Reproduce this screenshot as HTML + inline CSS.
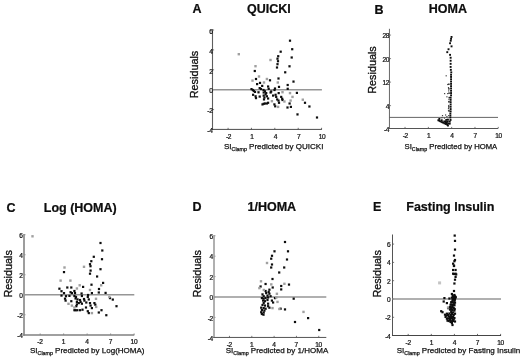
<!DOCTYPE html>
<html><head><meta charset="utf-8"><title>Residuals</title>
<style>
html,body{margin:0;padding:0;background:#fff;}
body{width:520px;height:360px;overflow:hidden;}
svg{display:block;font-family:'Liberation Sans', sans-serif;}
.t{font-weight:bold;font-size:12.5px;fill:#0a0a0a;stroke:#0a0a0a;stroke-width:.2;}
.k{font-size:6.6px;fill:#111;stroke:#111;stroke-width:.22;letter-spacing:-.35px;}
.xl{font-size:8px;fill:#111;stroke:#111;stroke-width:.25;}
.r{font-size:10.8px;fill:#111;stroke:#111;stroke-width:.3;}
.ax{stroke:#777;stroke-width:1;fill:none;}
</style></head><body>
<svg width="520" height="360" viewBox="0 0 520 360">
<defs><filter id="soft" x="0" y="0" width="520" height="360" filterUnits="userSpaceOnUse"><feGaussianBlur stdDeviation="0.38"/></filter></defs>
<rect width="520" height="360" fill="#fff"/>
<g filter="url(#soft)">
<g id="panelA">
<text class="t" x="192.50" y="12.50">A</text>
<text class="t" x="247.00" y="12.50">QUICKI</text>
<line x1="212.50" y1="29.40" x2="212.50" y2="129.90" stroke="#5e5e5e" stroke-width="1.10"/>
<line x1="211.95" y1="129.40" x2="321.90" y2="129.40" stroke="#4a4a4a" stroke-width="1.00"/>
<line x1="228.08" y1="129.40" x2="228.08" y2="127.80" stroke="#4a4a4a" stroke-width="0.8"/><line x1="251.45" y1="129.40" x2="251.45" y2="127.80" stroke="#4a4a4a" stroke-width="0.8"/><line x1="274.82" y1="129.40" x2="274.82" y2="127.80" stroke="#4a4a4a" stroke-width="0.8"/><line x1="298.19" y1="129.40" x2="298.19" y2="127.80" stroke="#4a4a4a" stroke-width="0.8"/><line x1="321.56" y1="129.40" x2="321.56" y2="127.80" stroke="#4a4a4a" stroke-width="0.8"/><line x1="212.50" y1="30.00" x2="214.10" y2="30.00" stroke="#5e5e5e" stroke-width="0.8"/><line x1="212.50" y1="49.90" x2="214.10" y2="49.90" stroke="#5e5e5e" stroke-width="0.8"/><line x1="212.50" y1="69.80" x2="214.10" y2="69.80" stroke="#5e5e5e" stroke-width="0.8"/><line x1="212.50" y1="89.70" x2="214.10" y2="89.70" stroke="#5e5e5e" stroke-width="0.8"/><line x1="212.50" y1="109.60" x2="214.10" y2="109.60" stroke="#5e5e5e" stroke-width="0.8"/>
<line x1="212.50" y1="89.70" x2="321.90" y2="89.70" stroke="#969696" stroke-width="1.50"/>
<text class="k" text-anchor="end" x="212.50" y="33.75">6</text>
<text class="k" text-anchor="end" x="212.50" y="53.65">4</text>
<text class="k" text-anchor="end" x="212.50" y="73.55">2</text>
<text class="k" text-anchor="end" x="212.50" y="93.45">0</text>
<text class="k" text-anchor="end" x="212.50" y="113.35">-2</text>
<text class="k" text-anchor="end" x="212.50" y="133.25">-4</text>
<text class="k" text-anchor="middle" x="228.58" y="138.80">-2</text>
<text class="k" text-anchor="middle" x="251.95" y="138.80">1</text>
<text class="k" text-anchor="middle" x="275.32" y="138.80">4</text>
<text class="k" text-anchor="middle" x="298.69" y="138.80">7</text>
<text class="k" text-anchor="middle" x="322.06" y="138.80">10</text>
<text class="xl" style="font-size:8.00px" x="224.00" y="149.00">SI<tspan font-size="5.3" dy="2.2">Clamp</tspan><tspan dy="-2.2"> Predicted by QUICKI</tspan></text>
<text class="r" text-anchor="middle" transform="translate(198.30 74.50) rotate(-90)">Residuals</text>
<rect x="253.7" y="69.9" width="2.2" height="2.2" fill="#0c0c0c"/><rect x="284.1" y="71.2" width="2.2" height="2.2" fill="#0c0c0c"/><rect x="254.9" y="77.9" width="2.2" height="2.2" fill="#0c0c0c"/><rect x="277.4" y="77.4" width="2.2" height="2.2" fill="#0c0c0c"/><rect x="268.9" y="79.2" width="2.2" height="2.2" fill="#0c0c0c"/><rect x="292.4" y="80.5" width="2.2" height="2.2" fill="#0c0c0c"/><rect x="256.0" y="83.0" width="2.2" height="2.2" fill="#0c0c0c"/><rect x="258.9" y="81.8" width="2.2" height="2.2" fill="#0c0c0c"/><rect x="261.1" y="84.8" width="2.2" height="2.2" fill="#0c0c0c"/><rect x="277.9" y="85.8" width="2.2" height="2.2" fill="#0c0c0c"/><rect x="286.6" y="83.9" width="2.2" height="2.2" fill="#0c0c0c"/><rect x="286.6" y="87.7" width="2.2" height="2.2" fill="#0c0c0c"/><rect x="267.0" y="85.4" width="2.2" height="2.2" fill="#0c0c0c"/><rect x="267.6" y="87.7" width="2.2" height="2.2" fill="#0c0c0c"/><rect x="273.9" y="87.4" width="2.2" height="2.2" fill="#0c0c0c"/><rect x="273.4" y="88.9" width="2.2" height="2.2" fill="#0c0c0c"/><rect x="250.4" y="88.0" width="2.2" height="2.2" fill="#0c0c0c"/><rect x="251.7" y="88.9" width="2.2" height="2.2" fill="#0c0c0c"/><rect x="252.7" y="89.9" width="2.2" height="2.2" fill="#0c0c0c"/><rect x="253.9" y="90.8" width="2.2" height="2.2" fill="#0c0c0c"/><rect x="258.6" y="87.0" width="2.2" height="2.2" fill="#0c0c0c"/><rect x="259.9" y="87.9" width="2.2" height="2.2" fill="#0c0c0c"/><rect x="262.4" y="88.9" width="2.2" height="2.2" fill="#0c0c0c"/><rect x="263.9" y="90.2" width="2.2" height="2.2" fill="#0c0c0c"/><rect x="257.4" y="91.2" width="2.2" height="2.2" fill="#0c0c0c"/><rect x="262.6" y="91.4" width="2.2" height="2.2" fill="#0c0c0c"/><rect x="265.1" y="92.0" width="2.2" height="2.2" fill="#0c0c0c"/><rect x="269.5" y="91.4" width="2.2" height="2.2" fill="#0c0c0c"/><rect x="270.1" y="90.4" width="2.2" height="2.2" fill="#0c0c0c"/><rect x="277.6" y="92.0" width="2.2" height="2.2" fill="#0c0c0c"/><rect x="252.0" y="93.7" width="2.2" height="2.2" fill="#0c0c0c"/><rect x="254.5" y="95.2" width="2.2" height="2.2" fill="#0c0c0c"/><rect x="254.9" y="97.0" width="2.2" height="2.2" fill="#0c0c0c"/><rect x="258.6" y="95.5" width="2.2" height="2.2" fill="#0c0c0c"/><rect x="262.6" y="94.5" width="2.2" height="2.2" fill="#0c0c0c"/><rect x="264.5" y="93.3" width="2.2" height="2.2" fill="#0c0c0c"/><rect x="265.8" y="95.2" width="2.2" height="2.2" fill="#0c0c0c"/><rect x="263.3" y="96.4" width="2.2" height="2.2" fill="#0c0c0c"/><rect x="262.9" y="98.3" width="2.2" height="2.2" fill="#0c0c0c"/><rect x="267.0" y="97.4" width="2.2" height="2.2" fill="#0c0c0c"/><rect x="272.0" y="94.5" width="2.2" height="2.2" fill="#0c0c0c"/><rect x="274.5" y="93.7" width="2.2" height="2.2" fill="#0c0c0c"/><rect x="275.1" y="95.8" width="2.2" height="2.2" fill="#0c0c0c"/><rect x="276.1" y="98.3" width="2.2" height="2.2" fill="#0c0c0c"/><rect x="277.4" y="99.5" width="2.2" height="2.2" fill="#0c0c0c"/><rect x="280.1" y="95.8" width="2.2" height="2.2" fill="#0c0c0c"/><rect x="281.1" y="97.7" width="2.2" height="2.2" fill="#0c0c0c"/><rect x="281.4" y="98.9" width="2.2" height="2.2" fill="#0c0c0c"/><rect x="295.8" y="91.8" width="2.2" height="2.2" fill="#0c0c0c"/><rect x="261.4" y="103.3" width="2.2" height="2.2" fill="#0c0c0c"/><rect x="262.6" y="102.7" width="2.2" height="2.2" fill="#0c0c0c"/><rect x="263.9" y="102.4" width="2.2" height="2.2" fill="#0c0c0c"/><rect x="265.8" y="102.4" width="2.2" height="2.2" fill="#0c0c0c"/><rect x="267.0" y="101.7" width="2.2" height="2.2" fill="#0c0c0c"/><rect x="273.3" y="103.3" width="2.2" height="2.2" fill="#0c0c0c"/><rect x="274.1" y="105.2" width="2.2" height="2.2" fill="#0c0c0c"/><rect x="277.9" y="101.7" width="2.2" height="2.2" fill="#0c0c0c"/><rect x="286.4" y="106.4" width="2.2" height="2.2" fill="#0c0c0c"/><rect x="289.8" y="105.8" width="2.2" height="2.2" fill="#0c0c0c"/><rect x="288.5" y="102.4" width="2.2" height="2.2" fill="#0c0c0c"/><rect x="303.9" y="101.7" width="2.2" height="2.2" fill="#0c0c0c"/><rect x="308.3" y="105.4" width="2.2" height="2.2" fill="#0c0c0c"/><rect x="296.4" y="113.3" width="2.2" height="2.2" fill="#0c0c0c"/><rect x="257.8" y="75.3" width="2.4" height="2.4" fill="#a0a0a0"/><rect x="251.3" y="79.4" width="2.4" height="2.4" fill="#a0a0a0"/><rect x="265.7" y="77.8" width="2.4" height="2.4" fill="#a0a0a0"/><rect x="262.8" y="81.3" width="2.4" height="2.4" fill="#a0a0a0"/><rect x="276.6" y="81.3" width="2.4" height="2.4" fill="#a0a0a0"/><rect x="281.3" y="91.0" width="2.4" height="2.4" fill="#a0a0a0"/><rect x="288.8" y="91.9" width="2.4" height="2.4" fill="#a0a0a0"/><rect x="291.3" y="95.7" width="2.4" height="2.4" fill="#a0a0a0"/><rect x="289.4" y="99.4" width="2.4" height="2.4" fill="#a0a0a0"/><rect x="301.6" y="98.5" width="2.4" height="2.4" fill="#a0a0a0"/><rect x="270.7" y="100.0" width="2.4" height="2.4" fill="#a0a0a0"/><rect x="283.2" y="100.3" width="2.4" height="2.4" fill="#a0a0a0"/><rect x="276.9" y="105.7" width="2.4" height="2.4" fill="#a0a0a0"/><rect x="288.9" y="39.6" width="2.2" height="2.2" fill="#0c0c0c"/><rect x="291.1" y="48.1" width="2.2" height="2.2" fill="#0c0c0c"/><rect x="279.6" y="50.6" width="2.2" height="2.2" fill="#0c0c0c"/><rect x="277.1" y="55.1" width="2.2" height="2.2" fill="#0c0c0c"/><rect x="290.6" y="56.4" width="2.2" height="2.2" fill="#0c0c0c"/><rect x="276.4" y="57.6" width="2.2" height="2.2" fill="#0c0c0c"/><rect x="276.9" y="60.1" width="2.2" height="2.2" fill="#0c0c0c"/><rect x="276.4" y="63.1" width="2.2" height="2.2" fill="#0c0c0c"/><rect x="275.9" y="66.4" width="2.2" height="2.2" fill="#0c0c0c"/><rect x="288.4" y="65.2" width="2.2" height="2.2" fill="#0c0c0c"/><rect x="237.6" y="53.0" width="2.4" height="2.4" fill="#a0a0a0"/><rect x="269.3" y="58.8" width="2.4" height="2.4" fill="#a0a0a0"/><rect x="254.3" y="65.0" width="2.4" height="2.4" fill="#a0a0a0"/><rect x="315.9" y="116.4" width="2.2" height="2.2" fill="#0c0c0c"/>
</g>
<g id="panelB">
<text class="t" x="374.50" y="13.50">B</text>
<text class="t" x="428.75" y="12.50">HOMA</text>
<line x1="389.45" y1="28.80" x2="389.45" y2="129.00" stroke="#666" stroke-width="1.00"/>
<line x1="388.95" y1="128.50" x2="498.00" y2="128.50" stroke="#555" stroke-width="1.00"/>
<line x1="405.04" y1="128.50" x2="405.04" y2="126.90" stroke="#555" stroke-width="0.8"/><line x1="428.35" y1="128.50" x2="428.35" y2="126.90" stroke="#555" stroke-width="0.8"/><line x1="451.66" y1="128.50" x2="451.66" y2="126.90" stroke="#555" stroke-width="0.8"/><line x1="474.97" y1="128.50" x2="474.97" y2="126.90" stroke="#555" stroke-width="0.8"/><line x1="498.28" y1="128.50" x2="498.28" y2="126.90" stroke="#555" stroke-width="0.8"/><line x1="389.45" y1="35.08" x2="391.05" y2="35.08" stroke="#666" stroke-width="0.8"/><line x1="389.45" y1="58.60" x2="391.05" y2="58.60" stroke="#666" stroke-width="0.8"/><line x1="389.45" y1="82.12" x2="391.05" y2="82.12" stroke="#666" stroke-width="0.8"/><line x1="389.45" y1="105.64" x2="391.05" y2="105.64" stroke="#666" stroke-width="0.8"/>
<line x1="389.45" y1="117.40" x2="498.00" y2="117.40" stroke="#555" stroke-width="0.90"/>
<text class="k" text-anchor="end" x="389.05" y="38.23">28</text>
<text class="k" text-anchor="end" x="389.05" y="61.75">20</text>
<text class="k" text-anchor="end" x="389.05" y="85.27">12</text>
<text class="k" text-anchor="end" x="389.05" y="108.79">4</text>
<text class="k" text-anchor="end" x="389.05" y="132.31">-4</text>
<text class="k" text-anchor="middle" x="405.34" y="137.80">-2</text>
<text class="k" text-anchor="middle" x="428.65" y="137.80">1</text>
<text class="k" text-anchor="middle" x="451.96" y="137.80">4</text>
<text class="k" text-anchor="middle" x="475.27" y="137.80">7</text>
<text class="k" text-anchor="middle" x="498.58" y="137.80">10</text>
<text class="xl" style="font-size:7.70px" x="404.60" y="149.00">SI<tspan font-size="5.3" dy="2.2">Clamp</tspan><tspan dy="-2.2"> Predicted by HOMA</tspan></text>
<text class="r" text-anchor="middle" transform="translate(375.50 70.00) rotate(-90)">Residuals</text>
<rect x="450.6" y="36.0" width="1.9" height="1.9" fill="#111"/><rect x="450.1" y="37.9" width="1.9" height="1.9" fill="#111"/><rect x="449.8" y="39.8" width="1.9" height="1.9" fill="#111"/><rect x="449.1" y="42.3" width="1.9" height="1.9" fill="#111"/><rect x="450.6" y="45.4" width="1.9" height="1.9" fill="#111"/><rect x="447.6" y="48.3" width="1.9" height="1.9" fill="#111"/><rect x="446.3" y="51.2" width="1.9" height="1.9" fill="#111"/><rect x="449.1" y="53.9" width="1.9" height="1.9" fill="#111"/><rect x="449.7" y="56.8" width="1.9" height="1.9" fill="#111"/><rect x="449.7" y="59.8" width="1.9" height="1.9" fill="#111"/><rect x="449.7" y="62.9" width="1.9" height="1.9" fill="#111"/><rect x="449.7" y="66.0" width="1.9" height="1.9" fill="#111"/><rect x="449.9" y="68.9" width="1.9" height="1.9" fill="#111"/><rect x="450.3" y="71.4" width="1.9" height="1.9" fill="#111"/><rect x="450.1" y="73.8" width="1.9" height="1.9" fill="#111"/><rect x="450.1" y="76.0" width="1.9" height="1.9" fill="#111"/><rect x="450.1" y="78.3" width="1.9" height="1.9" fill="#111"/><rect x="450.1" y="80.6" width="1.9" height="1.9" fill="#111"/><rect x="450.1" y="82.9" width="1.9" height="1.9" fill="#111"/><rect x="450.1" y="85.2" width="1.9" height="1.9" fill="#111"/><rect x="450.1" y="87.5" width="1.9" height="1.9" fill="#111"/><rect x="450.1" y="89.8" width="1.9" height="1.9" fill="#111"/><rect x="450.1" y="92.1" width="1.9" height="1.9" fill="#111"/><rect x="450.1" y="94.4" width="1.9" height="1.9" fill="#111"/><rect x="449.7" y="96.7" width="1.9" height="1.9" fill="#111"/><rect x="449.7" y="98.9" width="1.9" height="1.9" fill="#111"/><rect x="449.7" y="101.2" width="1.9" height="1.9" fill="#111"/><rect x="449.7" y="103.5" width="1.9" height="1.9" fill="#111"/><rect x="449.7" y="105.8" width="1.9" height="1.9" fill="#111"/><rect x="449.7" y="108.1" width="1.9" height="1.9" fill="#111"/><rect x="449.7" y="110.4" width="1.9" height="1.9" fill="#111"/><rect x="448.1" y="83.5" width="1.5" height="1.5" fill="#222"/><rect x="448.1" y="88.1" width="1.5" height="1.5" fill="#222"/><rect x="448.3" y="92.4" width="1.5" height="1.5" fill="#222"/><rect x="448.5" y="96.9" width="1.5" height="1.5" fill="#222"/><rect x="448.2" y="101.1" width="1.5" height="1.5" fill="#222"/><rect x="448.0" y="106.2" width="1.5" height="1.5" fill="#222"/><rect x="448.3" y="110.2" width="1.5" height="1.5" fill="#222"/><rect x="449.4" y="112.6" width="1.9" height="1.9" fill="#111"/><rect x="449.4" y="114.6" width="1.9" height="1.9" fill="#111"/><rect x="449.4" y="116.6" width="1.9" height="1.9" fill="#111"/><rect x="445.6" y="75.2" width="1.2" height="1.2" fill="#444"/><rect x="447.1" y="83.9" width="1.2" height="1.2" fill="#444"/><rect x="447.9" y="87.0" width="1.2" height="1.2" fill="#444"/><rect x="448.1" y="90.3" width="1.2" height="1.2" fill="#444"/><rect x="444.0" y="93.0" width="1.2" height="1.2" fill="#444"/><rect x="447.1" y="93.0" width="1.2" height="1.2" fill="#444"/><rect x="446.3" y="96.2" width="1.2" height="1.2" fill="#444"/><rect x="448.4" y="98.9" width="1.2" height="1.2" fill="#444"/><rect x="447.9" y="108.0" width="1.2" height="1.2" fill="#444"/><rect x="448.1" y="100.9" width="1.2" height="1.2" fill="#444"/><rect x="448.1" y="104.9" width="1.2" height="1.2" fill="#444"/><rect x="447.9" y="109.9" width="1.2" height="1.2" fill="#444"/><rect x="441.9" y="115.0" width="1.2" height="1.2" fill="#444"/><rect x="445.0" y="114.4" width="1.2" height="1.2" fill="#444"/><rect x="441.3" y="117.2" width="1.2" height="1.2" fill="#444"/><rect x="446.3" y="116.0" width="1.2" height="1.2" fill="#444"/><rect x="448.1" y="115.0" width="1.2" height="1.2" fill="#444"/><rect x="443.8" y="117.5" width="1.2" height="1.2" fill="#444"/><rect x="437.4" y="119.3" width="1.9" height="1.9" fill="#111"/><rect x="438.4" y="118.0" width="1.9" height="1.9" fill="#111"/><rect x="438.6" y="120.0" width="1.9" height="1.9" fill="#111"/><rect x="439.8" y="120.6" width="1.9" height="1.9" fill="#111"/><rect x="440.8" y="119.3" width="1.9" height="1.9" fill="#111"/><rect x="441.1" y="121.2" width="1.9" height="1.9" fill="#111"/><rect x="442.3" y="121.8" width="1.9" height="1.9" fill="#111"/><rect x="443.3" y="120.5" width="1.9" height="1.9" fill="#111"/><rect x="443.6" y="122.4" width="1.9" height="1.9" fill="#111"/><rect x="444.6" y="121.1" width="1.9" height="1.9" fill="#111"/><rect x="444.8" y="123.0" width="1.9" height="1.9" fill="#111"/><rect x="445.8" y="121.7" width="1.9" height="1.9" fill="#111"/><rect x="446.1" y="123.6" width="1.9" height="1.9" fill="#111"/><rect x="445.3" y="118.9" width="1.9" height="1.9" fill="#111"/><rect x="447.0" y="118.7" width="1.9" height="1.9" fill="#111"/><rect x="449.6" y="119.0" width="1.9" height="1.9" fill="#111"/><rect x="444.9" y="120.4" width="1.9" height="1.9" fill="#111"/><rect x="446.8" y="120.6" width="1.9" height="1.9" fill="#111"/><rect x="448.8" y="120.6" width="1.9" height="1.9" fill="#111"/><rect x="445.4" y="122.4" width="1.9" height="1.9" fill="#111"/><rect x="447.4" y="122.7" width="1.9" height="1.9" fill="#111"/><rect x="448.8" y="122.7" width="1.9" height="1.9" fill="#111"/><rect x="447.0" y="124.6" width="1.9" height="1.9" fill="#111"/>
</g>
<g id="panelC">
<text class="t" x="6.50" y="212.00">C</text>
<text class="t" x="43.75" y="211.75">Log (HOMA)</text>
<line x1="24.00" y1="234.00" x2="24.00" y2="335.75" stroke="#8c8c8c" stroke-width="1.70"/>
<line x1="23.15" y1="335.00" x2="134.30" y2="335.00" stroke="#808080" stroke-width="1.50"/>
<line x1="40.16" y1="335.00" x2="40.16" y2="333.40" stroke="#808080" stroke-width="0.8"/><line x1="63.65" y1="335.00" x2="63.65" y2="333.40" stroke="#808080" stroke-width="0.8"/><line x1="87.14" y1="335.00" x2="87.14" y2="333.40" stroke="#808080" stroke-width="0.8"/><line x1="110.63" y1="335.00" x2="110.63" y2="333.40" stroke="#808080" stroke-width="0.8"/><line x1="134.12" y1="335.00" x2="134.12" y2="333.40" stroke="#808080" stroke-width="0.8"/><line x1="24.00" y1="234.75" x2="25.60" y2="234.75" stroke="#8c8c8c" stroke-width="0.8"/><line x1="24.00" y1="254.75" x2="25.60" y2="254.75" stroke="#8c8c8c" stroke-width="0.8"/><line x1="24.00" y1="274.75" x2="25.60" y2="274.75" stroke="#8c8c8c" stroke-width="0.8"/><line x1="24.00" y1="294.75" x2="25.60" y2="294.75" stroke="#8c8c8c" stroke-width="0.8"/><line x1="24.00" y1="314.75" x2="25.60" y2="314.75" stroke="#8c8c8c" stroke-width="0.8"/>
<line x1="24.00" y1="294.75" x2="134.30" y2="294.75" stroke="#969696" stroke-width="1.50"/>
<text class="k" text-anchor="end" x="22.50" y="237.90">6</text>
<text class="k" text-anchor="end" x="22.50" y="257.90">4</text>
<text class="k" text-anchor="end" x="22.50" y="277.90">2</text>
<text class="k" text-anchor="end" x="22.50" y="297.90">0</text>
<text class="k" text-anchor="end" x="22.50" y="317.90">-2</text>
<text class="k" text-anchor="end" x="22.50" y="337.90">-4</text>
<text class="k" text-anchor="middle" x="39.96" y="344.10">-2</text>
<text class="k" text-anchor="middle" x="63.45" y="344.10">1</text>
<text class="k" text-anchor="middle" x="86.94" y="344.10">4</text>
<text class="k" text-anchor="middle" x="110.43" y="344.10">7</text>
<text class="k" text-anchor="middle" x="133.92" y="344.10">10</text>
<text class="xl" style="font-size:8.00px" x="30.00" y="353.00">SI<tspan font-size="5.3" dy="2.2">Clamp</tspan><tspan dy="-2.2"> Predicted by Log(HOMA)</tspan></text>
<text class="r" text-anchor="middle" transform="translate(12.00 273.90) rotate(-90)">Residuals</text>
<rect x="62.9" y="271.0" width="2.2" height="2.2" fill="#0c0c0c"/><rect x="89.5" y="269.5" width="2.2" height="2.2" fill="#0c0c0c"/><rect x="88.9" y="272.6" width="2.2" height="2.2" fill="#0c0c0c"/><rect x="96.0" y="275.4" width="2.2" height="2.2" fill="#0c0c0c"/><rect x="102.0" y="281.8" width="2.2" height="2.2" fill="#0c0c0c"/><rect x="90.4" y="283.6" width="2.2" height="2.2" fill="#0c0c0c"/><rect x="82.0" y="285.8" width="2.2" height="2.2" fill="#0c0c0c"/><rect x="66.2" y="286.4" width="2.2" height="2.2" fill="#0c0c0c"/><rect x="70.2" y="286.4" width="2.2" height="2.2" fill="#0c0c0c"/><rect x="58.3" y="287.6" width="2.2" height="2.2" fill="#0c0c0c"/><rect x="97.9" y="287.9" width="2.2" height="2.2" fill="#0c0c0c"/><rect x="60.4" y="290.1" width="2.2" height="2.2" fill="#0c0c0c"/><rect x="73.3" y="289.9" width="2.2" height="2.2" fill="#0c0c0c"/><rect x="69.5" y="291.1" width="2.2" height="2.2" fill="#0c0c0c"/><rect x="70.8" y="292.0" width="2.2" height="2.2" fill="#0c0c0c"/><rect x="62.9" y="292.0" width="2.2" height="2.2" fill="#0c0c0c"/><rect x="73.9" y="292.0" width="2.2" height="2.2" fill="#0c0c0c"/><rect x="80.5" y="292.4" width="2.2" height="2.2" fill="#0c0c0c"/><rect x="90.8" y="292.0" width="2.2" height="2.2" fill="#0c0c0c"/><rect x="97.7" y="291.4" width="2.2" height="2.2" fill="#0c0c0c"/><rect x="104.5" y="291.8" width="2.2" height="2.2" fill="#0c0c0c"/><rect x="87.0" y="293.9" width="2.2" height="2.2" fill="#0c0c0c"/><rect x="86.7" y="295.8" width="2.2" height="2.2" fill="#0c0c0c"/><rect x="60.4" y="294.5" width="2.2" height="2.2" fill="#0c0c0c"/><rect x="64.9" y="295.1" width="2.2" height="2.2" fill="#0c0c0c"/><rect x="68.3" y="294.8" width="2.2" height="2.2" fill="#0c0c0c"/><rect x="73.3" y="294.9" width="2.2" height="2.2" fill="#0c0c0c"/><rect x="74.9" y="295.8" width="2.2" height="2.2" fill="#0c0c0c"/><rect x="80.8" y="294.9" width="2.2" height="2.2" fill="#0c0c0c"/><rect x="63.9" y="297.6" width="2.2" height="2.2" fill="#0c0c0c"/><rect x="64.5" y="299.5" width="2.2" height="2.2" fill="#0c0c0c"/><rect x="70.2" y="300.1" width="2.2" height="2.2" fill="#0c0c0c"/><rect x="74.5" y="297.4" width="2.2" height="2.2" fill="#0c0c0c"/><rect x="76.4" y="298.3" width="2.2" height="2.2" fill="#0c0c0c"/><rect x="78.9" y="298.9" width="2.2" height="2.2" fill="#0c0c0c"/><rect x="82.9" y="297.9" width="2.2" height="2.2" fill="#0c0c0c"/><rect x="83.3" y="299.5" width="2.2" height="2.2" fill="#0c0c0c"/><rect x="87.7" y="298.3" width="2.2" height="2.2" fill="#0c0c0c"/><rect x="75.8" y="300.8" width="2.2" height="2.2" fill="#0c0c0c"/><rect x="79.5" y="300.8" width="2.2" height="2.2" fill="#0c0c0c"/><rect x="77.7" y="302.0" width="2.2" height="2.2" fill="#0c0c0c"/><rect x="80.8" y="302.6" width="2.2" height="2.2" fill="#0c0c0c"/><rect x="75.8" y="303.3" width="2.2" height="2.2" fill="#0c0c0c"/><rect x="85.2" y="301.4" width="2.2" height="2.2" fill="#0c0c0c"/><rect x="88.9" y="302.0" width="2.2" height="2.2" fill="#0c0c0c"/><rect x="93.3" y="302.0" width="2.2" height="2.2" fill="#0c0c0c"/><rect x="94.2" y="303.6" width="2.2" height="2.2" fill="#0c0c0c"/><rect x="89.5" y="304.5" width="2.2" height="2.2" fill="#0c0c0c"/><rect x="75.2" y="305.1" width="2.2" height="2.2" fill="#0c0c0c"/><rect x="84.9" y="306.4" width="2.2" height="2.2" fill="#0c0c0c"/><rect x="90.8" y="307.0" width="2.2" height="2.2" fill="#0c0c0c"/><rect x="73.3" y="309.1" width="2.2" height="2.2" fill="#0c0c0c"/><rect x="74.5" y="309.1" width="2.2" height="2.2" fill="#0c0c0c"/><rect x="76.2" y="309.1" width="2.2" height="2.2" fill="#0c0c0c"/><rect x="78.9" y="309.1" width="2.2" height="2.2" fill="#0c0c0c"/><rect x="81.4" y="308.6" width="2.2" height="2.2" fill="#0c0c0c"/><rect x="86.7" y="310.1" width="2.2" height="2.2" fill="#0c0c0c"/><rect x="87.7" y="312.0" width="2.2" height="2.2" fill="#0c0c0c"/><rect x="97.7" y="311.4" width="2.2" height="2.2" fill="#0c0c0c"/><rect x="100.4" y="309.1" width="2.2" height="2.2" fill="#0c0c0c"/><rect x="108.9" y="297.0" width="2.2" height="2.2" fill="#0c0c0c"/><rect x="111.7" y="298.5" width="2.2" height="2.2" fill="#0c0c0c"/><rect x="115.4" y="305.1" width="2.2" height="2.2" fill="#0c0c0c"/><rect x="59.4" y="279.4" width="2.4" height="2.4" fill="#a0a0a0"/><rect x="69.2" y="279.4" width="2.4" height="2.4" fill="#a0a0a0"/><rect x="78.5" y="284.1" width="2.4" height="2.4" fill="#a0a0a0"/><rect x="75.7" y="287.3" width="2.4" height="2.4" fill="#a0a0a0"/><rect x="100.0" y="284.1" width="2.4" height="2.4" fill="#a0a0a0"/><rect x="88.8" y="288.8" width="2.4" height="2.4" fill="#a0a0a0"/><rect x="94.8" y="297.6" width="2.4" height="2.4" fill="#a0a0a0"/><rect x="67.3" y="302.6" width="2.4" height="2.4" fill="#a0a0a0"/><rect x="70.7" y="304.4" width="2.4" height="2.4" fill="#a0a0a0"/><rect x="73.2" y="306.3" width="2.4" height="2.4" fill="#a0a0a0"/><rect x="95.0" y="305.7" width="2.4" height="2.4" fill="#a0a0a0"/><rect x="90.7" y="311.9" width="2.4" height="2.4" fill="#a0a0a0"/><rect x="108.2" y="295.7" width="2.4" height="2.4" fill="#a0a0a0"/><rect x="99.4" y="241.9" width="2.2" height="2.2" fill="#0c0c0c"/><rect x="101.2" y="249.4" width="2.2" height="2.2" fill="#0c0c0c"/><rect x="92.7" y="255.7" width="2.2" height="2.2" fill="#0c0c0c"/><rect x="100.9" y="258.1" width="2.2" height="2.2" fill="#0c0c0c"/><rect x="90.2" y="260.1" width="2.2" height="2.2" fill="#0c0c0c"/><rect x="88.9" y="263.1" width="2.2" height="2.2" fill="#0c0c0c"/><rect x="89.4" y="265.1" width="2.2" height="2.2" fill="#0c0c0c"/><rect x="99.4" y="268.1" width="2.2" height="2.2" fill="#0c0c0c"/><rect x="31.3" y="235.1" width="2.4" height="2.4" fill="#a0a0a0"/><rect x="63.3" y="266.3" width="2.4" height="2.4" fill="#a0a0a0"/><rect x="82.8" y="265.6" width="2.4" height="2.4" fill="#a0a0a0"/><rect x="105.2" y="314.1" width="2.2" height="2.2" fill="#0c0c0c"/>
</g>
<g id="panelD">
<text class="t" x="192.50" y="211.25">D</text>
<text class="t" x="247.50" y="211.25">1/HOMA</text>
<line x1="214.00" y1="235.00" x2="214.00" y2="337.95" stroke="#969696" stroke-width="1.50"/>
<line x1="213.25" y1="337.45" x2="326.30" y2="337.45" stroke="#555" stroke-width="1.00"/>
<line x1="229.48" y1="337.45" x2="229.48" y2="335.85" stroke="#555" stroke-width="0.8"/><line x1="251.80" y1="337.45" x2="251.80" y2="335.85" stroke="#555" stroke-width="0.8"/><line x1="274.12" y1="337.45" x2="274.12" y2="335.85" stroke="#555" stroke-width="0.8"/><line x1="296.44" y1="337.45" x2="296.44" y2="335.85" stroke="#555" stroke-width="0.8"/><line x1="318.76" y1="337.45" x2="318.76" y2="335.85" stroke="#555" stroke-width="0.8"/><line x1="214.00" y1="235.80" x2="215.60" y2="235.80" stroke="#969696" stroke-width="0.8"/><line x1="214.00" y1="256.20" x2="215.60" y2="256.20" stroke="#969696" stroke-width="0.8"/><line x1="214.00" y1="276.60" x2="215.60" y2="276.60" stroke="#969696" stroke-width="0.8"/><line x1="214.00" y1="297.00" x2="215.60" y2="297.00" stroke="#969696" stroke-width="0.8"/><line x1="214.00" y1="317.40" x2="215.60" y2="317.40" stroke="#969696" stroke-width="0.8"/>
<line x1="214.00" y1="297.00" x2="326.30" y2="297.00" stroke="#969696" stroke-width="1.50"/>
<text class="k" text-anchor="end" x="212.80" y="239.05">6</text>
<text class="k" text-anchor="end" x="212.80" y="259.45">4</text>
<text class="k" text-anchor="end" x="212.80" y="279.85">2</text>
<text class="k" text-anchor="end" x="212.80" y="300.25">0</text>
<text class="k" text-anchor="end" x="212.80" y="320.65">-2</text>
<text class="k" text-anchor="end" x="212.80" y="341.05">-4</text>
<text class="k" text-anchor="middle" x="229.28" y="346.85">-2</text>
<text class="k" text-anchor="middle" x="251.60" y="346.85">1</text>
<text class="k" text-anchor="middle" x="273.92" y="346.85">4</text>
<text class="k" text-anchor="middle" x="296.24" y="346.85">7</text>
<text class="k" text-anchor="middle" x="318.56" y="346.85">10</text>
<text class="xl" style="font-size:8.00px" x="225.75" y="353.25">SI<tspan font-size="5.3" dy="2.2">Clamp</tspan><tspan dy="-2.2"> Predicted by 1/HOMA</tspan></text>
<text class="r" text-anchor="middle" transform="translate(201.00 273.70) rotate(-90)">Residuals</text>
<rect x="271.4" y="277.9" width="2.2" height="2.2" fill="#0c0c0c"/><rect x="264.5" y="282.9" width="2.2" height="2.2" fill="#0c0c0c"/><rect x="287.9" y="283.5" width="2.2" height="2.2" fill="#0c0c0c"/><rect x="280.1" y="284.9" width="2.2" height="2.2" fill="#0c0c0c"/><rect x="259.5" y="285.4" width="2.2" height="2.2" fill="#0c0c0c"/><rect x="271.6" y="286.4" width="2.2" height="2.2" fill="#0c0c0c"/><rect x="280.1" y="288.3" width="2.2" height="2.2" fill="#0c0c0c"/><rect x="268.3" y="288.6" width="2.2" height="2.2" fill="#0c0c0c"/><rect x="264.5" y="289.9" width="2.2" height="2.2" fill="#0c0c0c"/><rect x="267.6" y="290.8" width="2.2" height="2.2" fill="#0c0c0c"/><rect x="265.1" y="292.0" width="2.2" height="2.2" fill="#0c0c0c"/><rect x="268.3" y="292.6" width="2.2" height="2.2" fill="#0c0c0c"/><rect x="261.4" y="293.3" width="2.2" height="2.2" fill="#0c0c0c"/><rect x="266.4" y="294.5" width="2.2" height="2.2" fill="#0c0c0c"/><rect x="262.6" y="295.1" width="2.2" height="2.2" fill="#0c0c0c"/><rect x="269.5" y="295.1" width="2.2" height="2.2" fill="#0c0c0c"/><rect x="260.8" y="297.0" width="2.2" height="2.2" fill="#0c0c0c"/><rect x="262.6" y="297.6" width="2.2" height="2.2" fill="#0c0c0c"/><rect x="264.5" y="297.0" width="2.2" height="2.2" fill="#0c0c0c"/><rect x="267.0" y="296.4" width="2.2" height="2.2" fill="#0c0c0c"/><rect x="273.9" y="297.0" width="2.2" height="2.2" fill="#0c0c0c"/><rect x="292.6" y="297.6" width="2.2" height="2.2" fill="#0c0c0c"/><rect x="262.0" y="299.5" width="2.2" height="2.2" fill="#0c0c0c"/><rect x="263.9" y="300.1" width="2.2" height="2.2" fill="#0c0c0c"/><rect x="266.4" y="298.9" width="2.2" height="2.2" fill="#0c0c0c"/><rect x="270.8" y="299.5" width="2.2" height="2.2" fill="#0c0c0c"/><rect x="272.0" y="301.4" width="2.2" height="2.2" fill="#0c0c0c"/><rect x="262.6" y="302.0" width="2.2" height="2.2" fill="#0c0c0c"/><rect x="267.0" y="302.6" width="2.2" height="2.2" fill="#0c0c0c"/><rect x="261.4" y="303.9" width="2.2" height="2.2" fill="#0c0c0c"/><rect x="263.9" y="304.5" width="2.2" height="2.2" fill="#0c0c0c"/><rect x="267.0" y="305.1" width="2.2" height="2.2" fill="#0c0c0c"/><rect x="268.3" y="306.6" width="2.2" height="2.2" fill="#0c0c0c"/><rect x="260.1" y="306.6" width="2.2" height="2.2" fill="#0c0c0c"/><rect x="262.6" y="307.0" width="2.2" height="2.2" fill="#0c0c0c"/><rect x="264.5" y="307.6" width="2.2" height="2.2" fill="#0c0c0c"/><rect x="260.8" y="308.9" width="2.2" height="2.2" fill="#0c0c0c"/><rect x="263.3" y="309.5" width="2.2" height="2.2" fill="#0c0c0c"/><rect x="260.1" y="311.1" width="2.2" height="2.2" fill="#0c0c0c"/><rect x="262.6" y="311.4" width="2.2" height="2.2" fill="#0c0c0c"/><rect x="260.8" y="312.9" width="2.2" height="2.2" fill="#0c0c0c"/><rect x="262.4" y="313.6" width="2.2" height="2.2" fill="#0c0c0c"/><rect x="279.5" y="307.6" width="2.2" height="2.2" fill="#0c0c0c"/><rect x="283.9" y="308.3" width="2.2" height="2.2" fill="#0c0c0c"/><rect x="307.0" y="317.0" width="2.2" height="2.2" fill="#0c0c0c"/><rect x="259.8" y="280.1" width="2.4" height="2.4" fill="#a0a0a0"/><rect x="270.1" y="283.2" width="2.4" height="2.4" fill="#a0a0a0"/><rect x="283.2" y="282.6" width="2.4" height="2.4" fill="#a0a0a0"/><rect x="258.2" y="286.9" width="2.4" height="2.4" fill="#a0a0a0"/><rect x="262.6" y="288.8" width="2.4" height="2.4" fill="#a0a0a0"/><rect x="275.7" y="292.6" width="2.4" height="2.4" fill="#a0a0a0"/><rect x="276.3" y="300.7" width="2.4" height="2.4" fill="#a0a0a0"/><rect x="271.3" y="306.9" width="2.4" height="2.4" fill="#a0a0a0"/><rect x="278.2" y="307.8" width="2.4" height="2.4" fill="#a0a0a0"/><rect x="302.3" y="310.7" width="2.4" height="2.4" fill="#a0a0a0"/><rect x="275.1" y="296.3" width="2.4" height="2.4" fill="#a0a0a0"/><rect x="283.9" y="240.9" width="2.2" height="2.2" fill="#0c0c0c"/><rect x="286.9" y="250.2" width="2.2" height="2.2" fill="#0c0c0c"/><rect x="273.4" y="250.2" width="2.2" height="2.2" fill="#0c0c0c"/><rect x="270.9" y="254.7" width="2.2" height="2.2" fill="#0c0c0c"/><rect x="270.1" y="257.6" width="2.2" height="2.2" fill="#0c0c0c"/><rect x="285.9" y="258.4" width="2.2" height="2.2" fill="#0c0c0c"/><rect x="270.9" y="263.4" width="2.2" height="2.2" fill="#0c0c0c"/><rect x="270.1" y="266.4" width="2.2" height="2.2" fill="#0c0c0c"/><rect x="283.1" y="266.4" width="2.2" height="2.2" fill="#0c0c0c"/><rect x="278.1" y="271.4" width="2.2" height="2.2" fill="#0c0c0c"/><rect x="265.8" y="261.8" width="2.4" height="2.4" fill="#a0a0a0"/><rect x="293.9" y="320.9" width="2.2" height="2.2" fill="#0c0c0c"/><rect x="318.1" y="328.9" width="2.2" height="2.2" fill="#0c0c0c"/>
</g>
<g id="panelE">
<text class="t" x="373.00" y="211.25">E</text>
<text class="t" x="406.25" y="211.25">Fasting Insulin</text>
<line x1="392.50" y1="234.50" x2="392.50" y2="336.00" stroke="#555" stroke-width="1.00"/>
<line x1="392.00" y1="335.50" x2="501.00" y2="335.50" stroke="#444" stroke-width="1.00"/>
<line x1="408.20" y1="335.50" x2="408.20" y2="333.90" stroke="#444" stroke-width="0.8"/><line x1="431.30" y1="335.50" x2="431.30" y2="333.90" stroke="#444" stroke-width="0.8"/><line x1="454.40" y1="335.50" x2="454.40" y2="333.90" stroke="#444" stroke-width="0.8"/><line x1="477.50" y1="335.50" x2="477.50" y2="333.90" stroke="#444" stroke-width="0.8"/><line x1="500.60" y1="335.50" x2="500.60" y2="333.90" stroke="#444" stroke-width="0.8"/><line x1="392.50" y1="244.10" x2="394.10" y2="244.10" stroke="#555" stroke-width="0.8"/><line x1="392.50" y1="262.40" x2="394.10" y2="262.40" stroke="#555" stroke-width="0.8"/><line x1="392.50" y1="280.70" x2="394.10" y2="280.70" stroke="#555" stroke-width="0.8"/><line x1="392.50" y1="299.00" x2="394.10" y2="299.00" stroke="#555" stroke-width="0.8"/><line x1="392.50" y1="317.30" x2="394.10" y2="317.30" stroke="#555" stroke-width="0.8"/>
<line x1="392.50" y1="299.00" x2="501.00" y2="299.00" stroke="#969696" stroke-width="1.50"/>
<text class="k" text-anchor="end" x="390.30" y="247.05">6</text>
<text class="k" text-anchor="end" x="390.30" y="265.35">4</text>
<text class="k" text-anchor="end" x="390.30" y="283.65">2</text>
<text class="k" text-anchor="end" x="390.30" y="301.95">0</text>
<text class="k" text-anchor="end" x="390.30" y="320.25">-2</text>
<text class="k" text-anchor="end" x="390.30" y="338.55">-4</text>
<text class="k" text-anchor="middle" x="408.20" y="344.80">-2</text>
<text class="k" text-anchor="middle" x="431.30" y="344.80">1</text>
<text class="k" text-anchor="middle" x="454.40" y="344.80">4</text>
<text class="k" text-anchor="middle" x="477.50" y="344.80">7</text>
<text class="k" text-anchor="middle" x="500.60" y="344.80">10</text>
<text class="xl" style="font-size:8.00px" x="396.75" y="353.00">SI<tspan font-size="5.3" dy="2.2">Clamp</tspan><tspan dy="-2.2"> Predicted by Fasting Insulin</tspan></text>
<text class="r" text-anchor="middle" transform="translate(381.00 273.90) rotate(-90)">Residuals</text>
<rect x="453.6" y="234.5" width="2.2" height="2.2" fill="#0c0c0c"/><rect x="453.9" y="239.8" width="2.2" height="2.2" fill="#0c0c0c"/><rect x="453.9" y="248.5" width="2.2" height="2.2" fill="#0c0c0c"/><rect x="452.9" y="254.5" width="2.2" height="2.2" fill="#0c0c0c"/><rect x="453.9" y="258.9" width="2.2" height="2.2" fill="#0c0c0c"/><rect x="453.3" y="260.1" width="2.2" height="2.2" fill="#0c0c0c"/><rect x="452.0" y="262.6" width="2.2" height="2.2" fill="#0c0c0c"/><rect x="452.9" y="264.5" width="2.2" height="2.2" fill="#0c0c0c"/><rect x="452.0" y="268.9" width="2.2" height="2.2" fill="#0c0c0c"/><rect x="454.5" y="268.9" width="2.2" height="2.2" fill="#0c0c0c"/><rect x="452.0" y="272.6" width="2.2" height="2.2" fill="#0c0c0c"/><rect x="454.5" y="272.6" width="2.2" height="2.2" fill="#0c0c0c"/><rect x="452.9" y="264.9" width="2.2" height="2.2" fill="#0c0c0c"/><rect x="452.9" y="272.9" width="2.2" height="2.2" fill="#0c0c0c"/><rect x="455.1" y="273.3" width="2.2" height="2.2" fill="#0c0c0c"/><rect x="454.5" y="275.8" width="2.2" height="2.2" fill="#0c0c0c"/><rect x="453.9" y="278.6" width="2.2" height="2.2" fill="#0c0c0c"/><rect x="453.3" y="282.4" width="2.2" height="2.2" fill="#0c0c0c"/><rect x="452.9" y="289.9" width="2.2" height="2.2" fill="#0c0c0c"/><rect x="450.8" y="292.9" width="2.2" height="2.2" fill="#0c0c0c"/><rect x="453.3" y="293.9" width="2.2" height="2.2" fill="#0c0c0c"/><rect x="452.0" y="295.8" width="2.2" height="2.2" fill="#0c0c0c"/><rect x="454.5" y="295.8" width="2.2" height="2.2" fill="#0c0c0c"/><rect x="443.3" y="297.0" width="2.2" height="2.2" fill="#0c0c0c"/><rect x="448.3" y="297.4" width="2.2" height="2.2" fill="#0c0c0c"/><rect x="452.0" y="298.3" width="2.2" height="2.2" fill="#0c0c0c"/><rect x="453.9" y="297.6" width="2.2" height="2.2" fill="#0c0c0c"/><rect x="453.3" y="299.5" width="2.2" height="2.2" fill="#0c0c0c"/><rect x="442.6" y="300.4" width="2.2" height="2.2" fill="#0c0c0c"/><rect x="450.8" y="300.8" width="2.2" height="2.2" fill="#0c0c0c"/><rect x="452.6" y="301.4" width="2.2" height="2.2" fill="#0c0c0c"/><rect x="445.8" y="302.0" width="2.2" height="2.2" fill="#0c0c0c"/><rect x="450.1" y="303.3" width="2.2" height="2.2" fill="#0c0c0c"/><rect x="452.6" y="303.3" width="2.2" height="2.2" fill="#0c0c0c"/><rect x="449.5" y="305.8" width="2.2" height="2.2" fill="#0c0c0c"/><rect x="451.4" y="305.1" width="2.2" height="2.2" fill="#0c0c0c"/><rect x="447.0" y="307.0" width="2.2" height="2.2" fill="#0c0c0c"/><rect x="450.1" y="307.6" width="2.2" height="2.2" fill="#0c0c0c"/><rect x="438.1" y="281.4" width="3" height="3" fill="#c4c4c4"/><rect x="448.9" y="308.3" width="2.2" height="2.2" fill="#0c0c0c"/><rect x="450.8" y="308.6" width="2.2" height="2.2" fill="#0c0c0c"/><rect x="453.3" y="309.5" width="2.2" height="2.2" fill="#0c0c0c"/><rect x="440.1" y="310.1" width="2.2" height="2.2" fill="#0c0c0c"/><rect x="441.4" y="311.1" width="2.2" height="2.2" fill="#0c0c0c"/><rect x="450.1" y="310.8" width="2.2" height="2.2" fill="#0c0c0c"/><rect x="452.0" y="311.4" width="2.2" height="2.2" fill="#0c0c0c"/><rect x="453.9" y="312.6" width="2.2" height="2.2" fill="#0c0c0c"/><rect x="443.9" y="313.6" width="2.2" height="2.2" fill="#0c0c0c"/><rect x="447.0" y="313.9" width="2.2" height="2.2" fill="#0c0c0c"/><rect x="449.5" y="313.9" width="2.2" height="2.2" fill="#0c0c0c"/><rect x="444.5" y="315.8" width="2.2" height="2.2" fill="#0c0c0c"/><rect x="448.9" y="316.1" width="2.2" height="2.2" fill="#0c0c0c"/><rect x="445.8" y="317.6" width="2.2" height="2.2" fill="#0c0c0c"/><rect x="450.8" y="317.0" width="2.2" height="2.2" fill="#0c0c0c"/><rect x="453.3" y="317.0" width="2.2" height="2.2" fill="#0c0c0c"/><rect x="446.4" y="319.5" width="2.2" height="2.2" fill="#0c0c0c"/><rect x="448.9" y="318.9" width="2.2" height="2.2" fill="#0c0c0c"/><rect x="450.1" y="320.1" width="2.2" height="2.2" fill="#0c0c0c"/><rect x="453.9" y="320.4" width="2.2" height="2.2" fill="#0c0c0c"/><rect x="450.8" y="322.0" width="2.2" height="2.2" fill="#0c0c0c"/><rect x="451.4" y="323.9" width="2.2" height="2.2" fill="#0c0c0c"/><rect x="446.9" y="306.3" width="2.4" height="2.4" fill="#a0a0a0"/><rect x="451.6" y="294.5" width="2.2" height="2.2" fill="#0c0c0c"/><rect x="453.6" y="294.9" width="2.2" height="2.2" fill="#0c0c0c"/><rect x="450.8" y="296.6" width="2.2" height="2.2" fill="#0c0c0c"/><rect x="452.9" y="297.0" width="2.2" height="2.2" fill="#0c0c0c"/><rect x="454.5" y="296.4" width="2.2" height="2.2" fill="#0c0c0c"/><rect x="451.4" y="298.9" width="2.2" height="2.2" fill="#0c0c0c"/><rect x="453.6" y="299.1" width="2.2" height="2.2" fill="#0c0c0c"/><rect x="450.1" y="301.1" width="2.2" height="2.2" fill="#0c0c0c"/><rect x="452.4" y="301.4" width="2.2" height="2.2" fill="#0c0c0c"/><rect x="453.9" y="301.6" width="2.2" height="2.2" fill="#0c0c0c"/><rect x="449.5" y="303.6" width="2.2" height="2.2" fill="#0c0c0c"/><rect x="451.6" y="303.9" width="2.2" height="2.2" fill="#0c0c0c"/><rect x="453.4" y="304.1" width="2.2" height="2.2" fill="#0c0c0c"/><rect x="448.9" y="306.1" width="2.2" height="2.2" fill="#0c0c0c"/><rect x="450.8" y="306.4" width="2.2" height="2.2" fill="#0c0c0c"/><rect x="452.6" y="306.8" width="2.2" height="2.2" fill="#0c0c0c"/><rect x="449.5" y="308.6" width="2.2" height="2.2" fill="#0c0c0c"/><rect x="451.6" y="309.1" width="2.2" height="2.2" fill="#0c0c0c"/><rect x="453.6" y="307.9" width="2.2" height="2.2" fill="#0c0c0c"/><rect x="445.8" y="312.6" width="2.2" height="2.2" fill="#0c0c0c"/><rect x="448.3" y="312.4" width="2.2" height="2.2" fill="#0c0c0c"/><rect x="450.8" y="312.9" width="2.2" height="2.2" fill="#0c0c0c"/><rect x="452.6" y="313.9" width="2.2" height="2.2" fill="#0c0c0c"/><rect x="445.1" y="314.5" width="2.2" height="2.2" fill="#0c0c0c"/><rect x="447.6" y="315.4" width="2.2" height="2.2" fill="#0c0c0c"/><rect x="450.1" y="315.1" width="2.2" height="2.2" fill="#0c0c0c"/><rect x="452.0" y="315.8" width="2.2" height="2.2" fill="#0c0c0c"/><rect x="447.0" y="317.4" width="2.2" height="2.2" fill="#0c0c0c"/><rect x="448.9" y="317.6" width="2.2" height="2.2" fill="#0c0c0c"/><rect x="451.4" y="318.6" width="2.2" height="2.2" fill="#0c0c0c"/><rect x="447.6" y="319.9" width="2.2" height="2.2" fill="#0c0c0c"/><rect x="449.5" y="320.8" width="2.2" height="2.2" fill="#0c0c0c"/><rect x="452.0" y="319.9" width="2.2" height="2.2" fill="#0c0c0c"/><rect x="452.6" y="318.3" width="2.2" height="2.2" fill="#0c0c0c"/>
</g>
</g>
</svg>
</body></html>
